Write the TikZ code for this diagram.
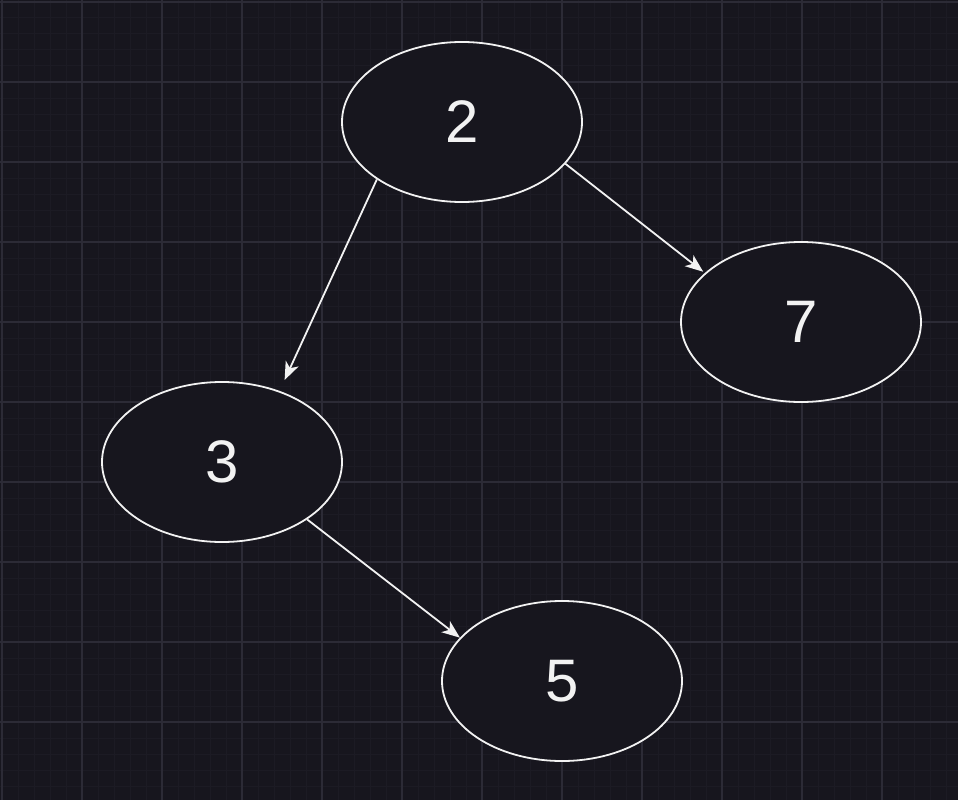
\documentclass[tikz,border=0pt]{standalone}
\usepackage{fontspec}
\setmainfont{Liberation Sans}
\usetikzlibrary{shapes.geometric,arrows.meta}
\definecolor{bgcol}{HTML}{17161E}
\definecolor{minorgrid}{HTML}{1C1B24}
\definecolor{majorgrid}{HTML}{2C2B36}
\definecolor{nodefill}{HTML}{17161E}
\definecolor{edgecol}{HTML}{F2F2F2}
\tikzset{
  treenode/.style={ellipse, draw=edgecol, fill=nodefill, line width=1.8pt,
    minimum width=240pt, minimum height=160pt, inner sep=0pt,
    text=edgecol, font=\fontsize{60}{66}\selectfont},
  treeedge/.style={draw=edgecol, line width=1.8pt,
    -{Stealth[length=18pt, width=14pt, inset=5pt]}}
}
\begin{document}
\begin{tikzpicture}[x=1pt, y=-1pt]
  \useasboundingbox (0,0) rectangle (958,800);
  \fill[bgcol] (0,0) rectangle (958,800);
  % minor grid
  \foreach \i in {0,...,60} {
    \draw[minorgrid, line width=1pt] ({2+16*\i},0) -- ({2+16*\i},800);
  }
  \foreach \i in {0,...,50} {
    \draw[minorgrid, line width=1pt] (0,{2+16*\i}) -- (958,{2+16*\i});
  }
  % major grid
  \foreach \i in {0,...,12} {
    \draw[majorgrid, line width=1.2pt] ({2+80*\i},0) -- ({2+80*\i},800);
  }
  \foreach \i in {0,...,10} {
    \draw[majorgrid, line width=1.2pt] (0,{2+80*\i}) -- (958,{2+80*\i});
  }
  % nodes
  \node[treenode] (n2) at (462,122) {2};
  \node[treenode] (n7) at (801,322) {7};
  \node[treenode] (n3) at (222,462) {3};
  \node[treenode] (n5) at (562,681) {5};
  % edges
  \draw[treeedge, shorten >=12pt] (n2.214.5) -- (n3.51.8);
  \draw[treeedge, shorten >=2pt] (n2.338.7) -- (n7.153.9);
  \draw[treeedge] (n3.326.5) -- (n5.157.2);
\end{tikzpicture}
\end{document}
